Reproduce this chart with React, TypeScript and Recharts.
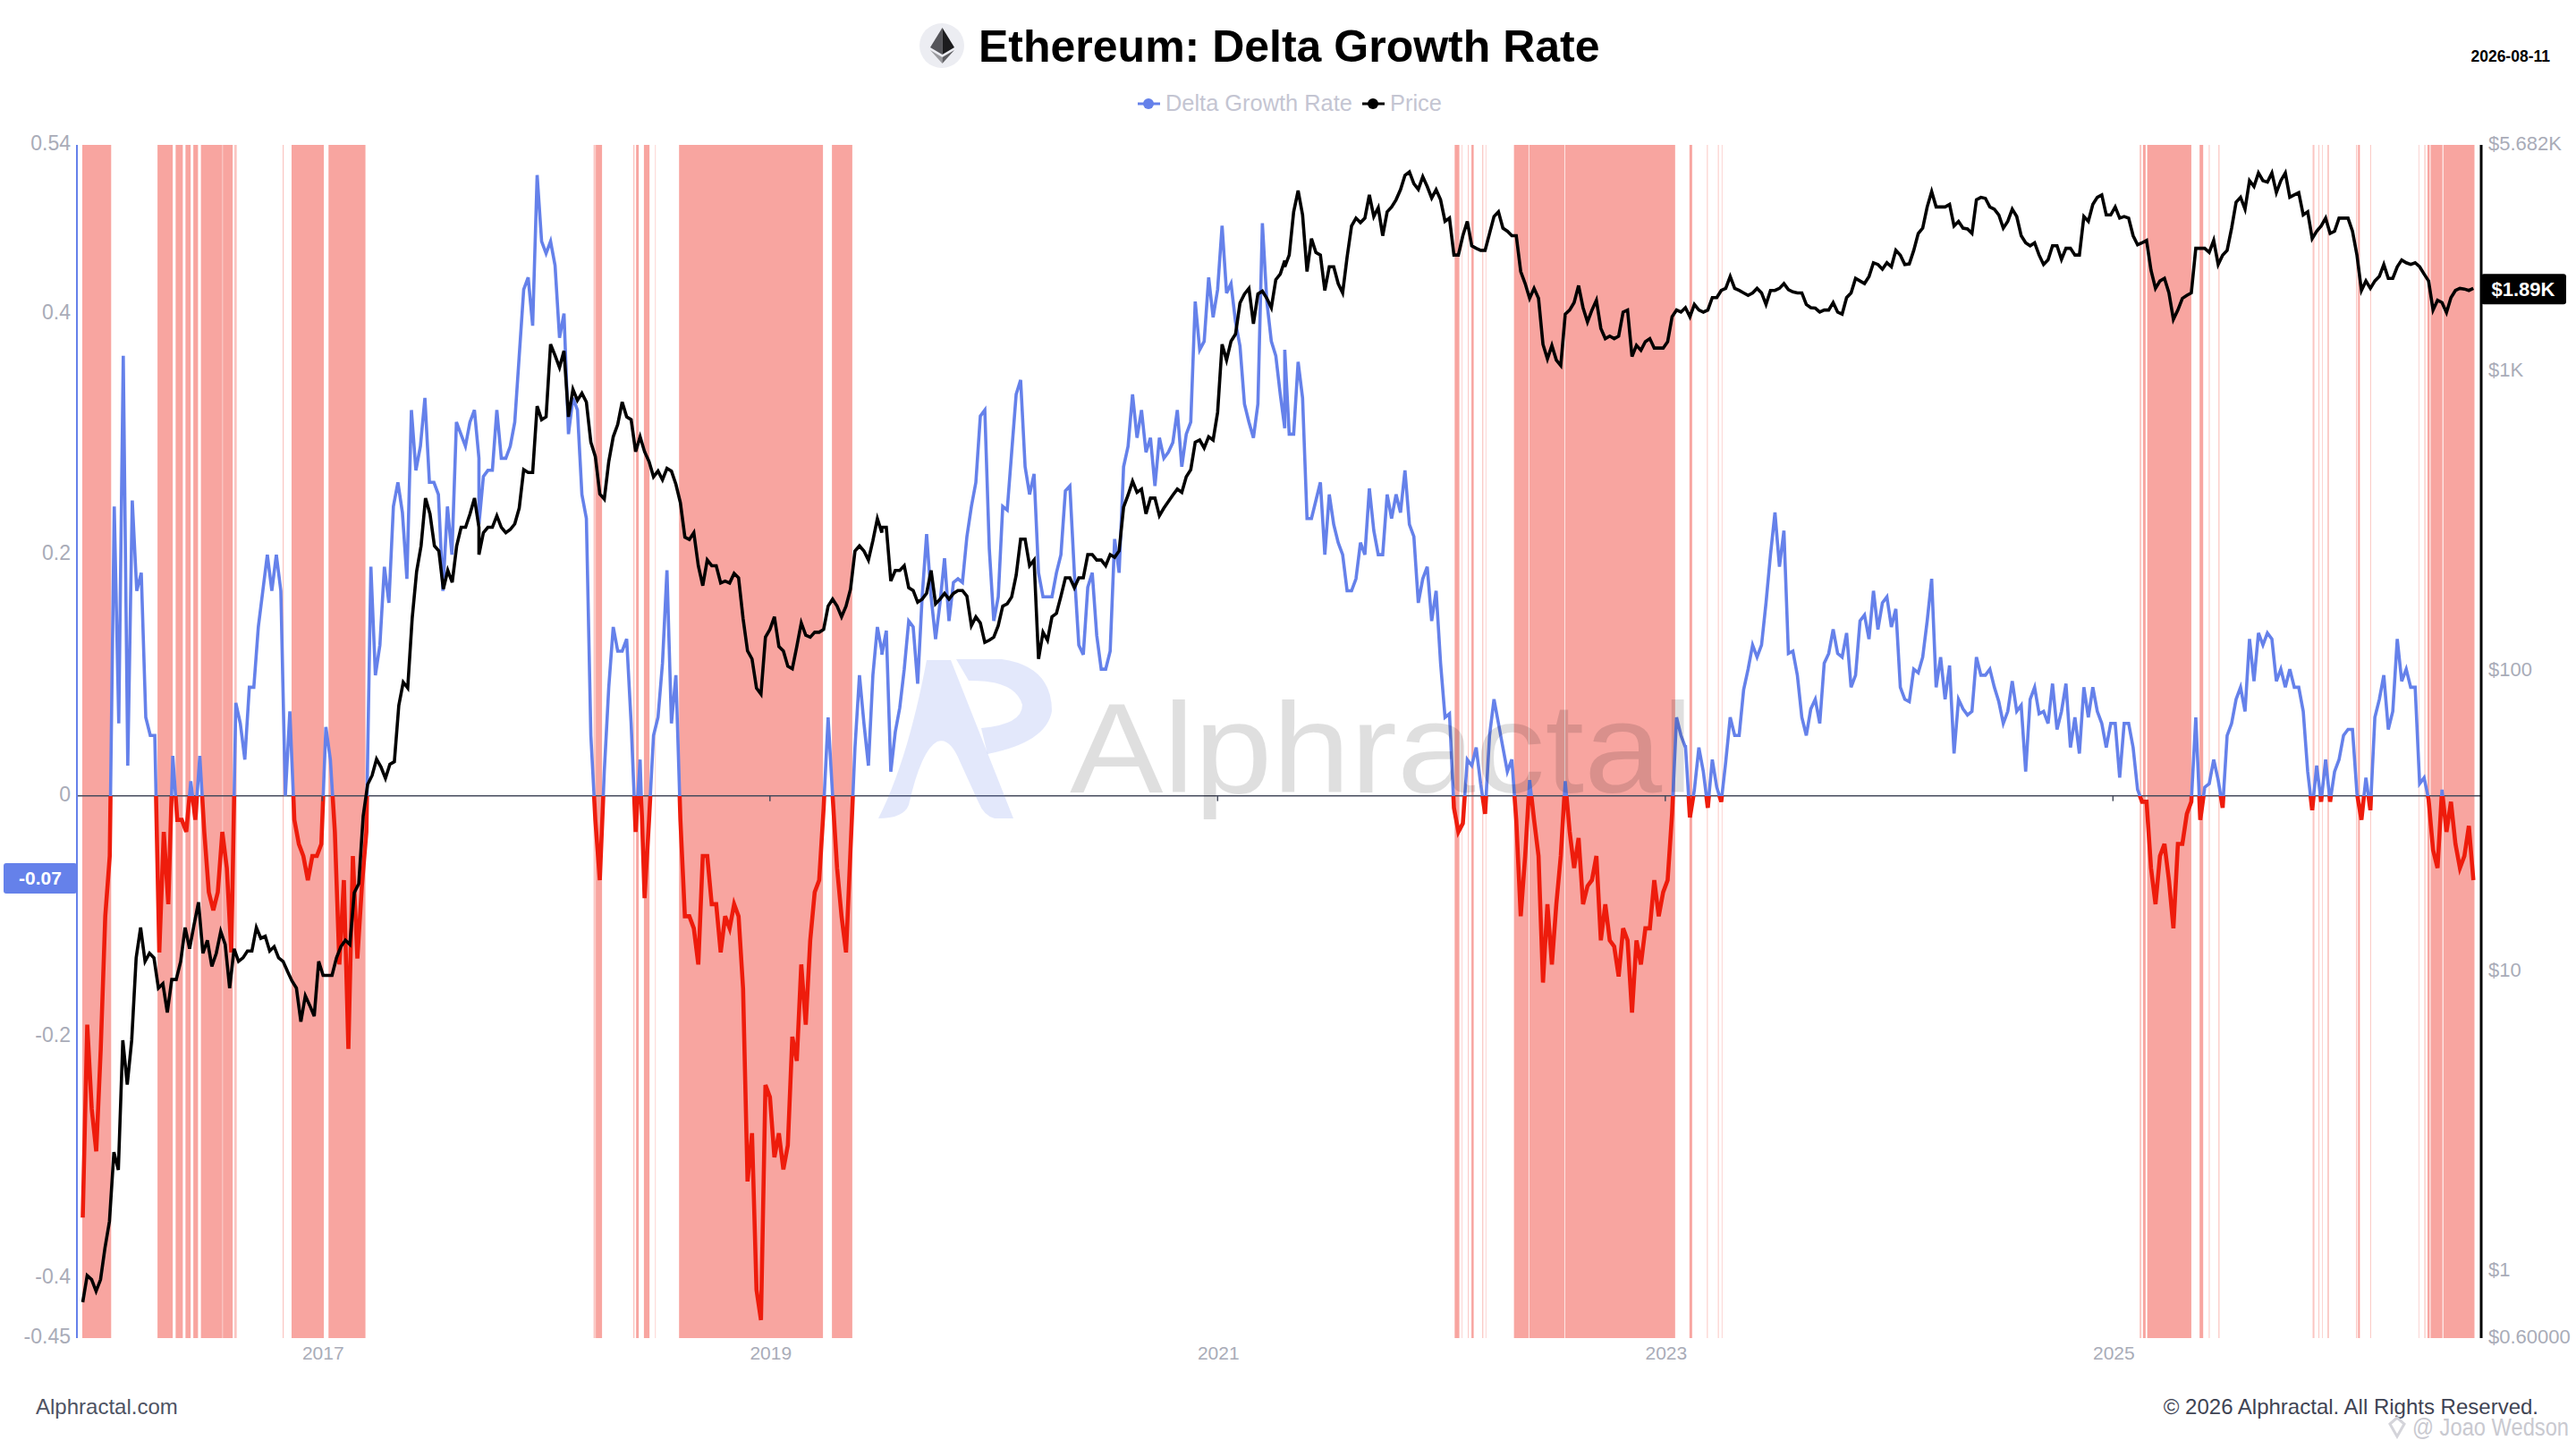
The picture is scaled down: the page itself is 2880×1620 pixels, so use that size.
import {
  ComposedChart,
  Line,
  XAxis,
  YAxis,
  ReferenceArea,
  ReferenceDot,
  ReferenceLine,
} from 'recharts';

// six stretches of the time axis, each list below is spread evenly over its stretch
const segmentEdges = [2015.93, 2017.7, 2019.5, 2021.3, 2023.09, 2024.89, 2026.61];

const delta2016 = [
  -0.35, -0.19, -0.26, -0.295, -0.21, -0.1, -0.05, 0.24, 0.06, 0.365, 0.025, 0.245, 0.17, 0.185, 0.065, 0.05, 0.05,
  -0.13, -0.03, -0.09, 0.033, -0.02, -0.02, -0.03, 0.012, -0.02, 0.033, -0.03, -0.08, -0.095, -0.08, -0.03, -0.06,
  -0.13, 0.077, 0.06, 0.03, 0.09, 0.09, 0.14, 0.17, 0.2, 0.17, 0.2, 0.17, 0, 0.07, -0.02, -0.04, -0.05, -0.07, -0.05,
  -0.05, -0.04, 0.057, 0.03, -0.03, -0.14, -0.07, -0.21, -0.05, -0.135, -0.075, -0.03, 0.19, 0.1, 0.125, 0.19, 0.16,
  0.24, 0.26, 0.235, 0.18, 0.32, 0.27, 0.29, 0.33, 0.26, 0.26, 0.25, 0.17, 0.24, 0.2, 0.31, 0.3, 0.29, 0.31, 0.32, 0.28,
];
const delta2017 = [
  0.225, 0.265, 0.27, 0.27, 0.32, 0.28, 0.28, 0.29, 0.31, 0.365, 0.42, 0.43, 0.39, 0.515, 0.46, 0.45, 0.46, 0.44, 0.38,
  0.4, 0.3, 0.33, 0.32, 0.25, 0.23, 0.05, -0.02, -0.07, 0.02, 0.09, 0.14, 0.12, 0.12, 0.13, 0.06, -0.03, 0.03, -0.085,
  -0.02, 0.05, 0.065, 0.11, 0.187, 0.06, 0.1, -0.02, -0.1, -0.1, -0.11, -0.14, -0.05, -0.05, -0.09, -0.09, -0.13, -0.1,
  -0.11, -0.09, -0.1, -0.16, -0.32, -0.28, -0.41, -0.435, -0.24, -0.25, -0.3, -0.28, -0.31, -0.29, -0.2, -0.22, -0.14,
  -0.19, -0.12, -0.08, -0.07, -0.01, 0.065, 0, -0.06, -0.1, -0.13, -0.045, 0.04, 0.1, 0.06, 0.025, 0.1, 0.14, 0.12,
];
const delta2019 = [
  0.117, 0.137, 0.02, 0.053, 0.073, 0.105, 0.145, 0.14, 0.093, 0.165, 0.217, 0.165, 0.13, 0.16, 0.197, 0.145, 0.177,
  0.18, 0.177, 0.215, 0.24, 0.26, 0.315, 0.32, 0.205, 0.145, 0.165, 0.24, 0.237, 0.285, 0.333, 0.345, 0.273, 0.25,
  0.267, 0.185, 0.165, 0.165, 0.165, 0.185, 0.2, 0.253, 0.257, 0.185, 0.125, 0.117, 0.173, 0.185, 0.133, 0.105, 0.105,
  0.12, 0.213, 0.185, 0.273, 0.29, 0.333, 0.297, 0.32, 0.285, 0.297, 0.257, 0.297, 0.28, 0.285, 0.293, 0.32, 0.273,
  0.3, 0.31, 0.41, 0.37, 0.377, 0.43, 0.397, 0.42, 0.473, 0.417, 0.425, 0.393, 0.373, 0.325, 0.31, 0.297, 0.325, 0.475,
  0.41, 0.377, 0.365, 0.333, 0.305,
];
const delta2021 = [
  0.37, 0.3, 0.3, 0.36, 0.33, 0.23, 0.23, 0.245, 0.26, 0.2, 0.25, 0.225, 0.21, 0.2, 0.17, 0.17, 0.18, 0.21, 0.2, 0.255,
  0.22, 0.2, 0.2, 0.25, 0.23, 0.25, 0.235, 0.27, 0.225, 0.215, 0.16, 0.18, 0.19, 0.145, 0.17, 0.11, 0.065, 0.068, -0.01,
  -0.03, -0.023, 0.03, 0.025, 0.04, 0.01, -0.015, 0.05, 0.08, 0.06, 0.04, 0.02, 0.03, -0.02, -0.1, -0.05, 0.013, -0.02,
  -0.05, -0.155, -0.09, -0.14, -0.09, -0.05, 0.012, -0.03, -0.06, -0.035, -0.09, -0.075, -0.07, -0.05, -0.12, -0.09,
  -0.12, -0.125, -0.15, -0.11, -0.12, -0.18, -0.12, -0.14, -0.11, -0.11, -0.07, -0.1, -0.08, -0.07, -0.015, 0.065, 0.05,
  0.04,
];
const delta2023 = [
  0.042, -0.018, 0.005, 0.04, 0.02, -0.01, 0.03, 0.007, -0.005, 0.028, 0.065, 0.05, 0.05, 0.088, 0.105, 0.125, 0.115,
  0.125, 0.16, 0.2, 0.235, 0.19, 0.22, 0.118, 0.12, 0.1, 0.065, 0.05, 0.072, 0.08, 0.06, 0.11, 0.118, 0.138, 0.118,
  0.115, 0.135, 0.09, 0.1, 0.145, 0.15, 0.13, 0.17, 0.138, 0.16, 0.165, 0.14, 0.155, 0.09, 0.08, 0.078, 0.105, 0.102,
  0.115, 0.145, 0.18, 0.09, 0.115, 0.08, 0.108, 0.035, 0.08, 0.072, 0.067, 0.07, 0.115, 0.1, 0.1, 0.105, 0.09, 0.078,
  0.06, 0.07, 0.095, 0.07, 0.075, 0.02, 0.08, 0.09, 0.068, 0.07, 0.06, 0.093, 0.055, 0.07, 0.093, 0.04, 0.065, 0.035,
  0.09, 0.065,
];
const delta2025 = [
  0.065, 0.09, 0.07, 0.06, 0.04, 0.06, 0.06, 0.015, 0.06, 0.06, 0.04, 0.005, -0.005, -0.005, -0.06, -0.09, -0.05, -0.04,
  -0.07, -0.11, -0.04, -0.04, -0.015, -0.005, 0.065, -0.02, 0.007, 0.01, 0.03, 0.013, -0.01, 0.05, 0.06, 0.08, 0.09,
  0.07, 0.13, 0.095, 0.135, 0.125, 0.135, 0.13, 0.095, 0.105, 0.09, 0.105, 0.09, 0.09, 0.07, 0.02, -0.012, 0.025, -0.005,
  0.03, -0.005, 0.02, 0.03, 0.05, 0.055, 0.055, 0.002, -0.02, 0.015, -0.012, 0.065, 0.08, 0.1, 0.055, 0.07, 0.13, 0.095,
  0.105, 0.09, 0.09, 0.01, 0.015, -0.003, -0.045, -0.06, 0.005, -0.03, -0.005, -0.04, -0.06, -0.05, -0.025, -0.07,
];

const price2016 = [
  0.79, 0.97, 0.94, 0.86, 0.94, 1.2, 1.47, 2.5, 2.18, 5.9, 4.2, 5.9, 11.1, 14, 10.8, 11.5, 11.1, 8.8, 9.1, 7.3, 9.4, 9.4,
  10.8, 14, 11.9, 14.3, 17, 11.5, 12.7, 10.4, 11.5, 13.6, 12.3, 8.8, 11.9, 10.8, 11.1, 11.7, 11.7, 14, 12.9, 13.1, 11.7,
  12.1, 11.1, 10.8, 10, 9.3, 8.8, 6.8, 8.3, 7.7, 7.1, 10.8, 9.7, 9.7, 9.7, 11.1, 12.1, 12.7, 12.3, 18.3, 19.6, 33, 42,
  45, 51, 48, 44, 49, 50, 77, 92, 88, 150, 215, 262, 378, 335, 262, 252, 188, 217, 198, 262, 302, 302, 335, 378, 302,
];
const price2017 = [
  245, 290, 302, 302, 330, 302, 290, 297, 310, 350, 470, 460, 460, 765, 690, 705, 1230, 1130, 1030, 1170, 705, 870, 800,
  845, 790, 580, 520, 390, 375, 500, 605, 665, 790, 705, 690, 540, 605, 540, 500, 445, 465, 435, 475, 465, 420, 365, 280,
  275, 290, 225, 193, 235, 225, 225, 197, 200, 197, 212, 205, 150, 117, 110, 88, 84, 130, 138, 152, 121, 117, 104, 102,
  121, 145, 132, 130, 135, 135, 138, 165, 174, 165, 152, 165, 188, 252, 262, 252, 235, 273, 323, 290,
];
const price2019 = [
  302, 302, 200, 217, 217, 225, 190, 186, 170, 174, 182, 217, 168, 174, 182, 174, 182, 186, 186, 178, 142, 152, 145, 125,
  127, 130, 142, 165, 168, 177, 209, 276, 276, 225, 235, 110, 135, 127, 152, 156, 178, 205, 205, 190, 205, 205, 245, 245,
  235, 235, 225, 245, 240, 252, 353, 387, 430, 395, 405, 335, 378, 378, 330, 350, 368, 387, 405, 395, 445, 470, 580, 590,
  555, 605, 590, 730, 1230, 1090, 1260, 1330, 1690, 1810, 1890, 1440, 1810, 1850, 1750, 1630, 2020, 2110, 2340,
];
const price2021 = [
  2230, 2440, 3400, 4000, 3320, 2150, 2770, 2490, 2440, 1860, 2230, 2230, 1960, 1825, 2400, 3050, 3240, 3130, 3240, 3870,
  3280, 3510, 2830, 3400, 3530, 3730, 4030, 4500, 4620, 4220, 4040, 4450, 4130, 3780, 4030, 3730, 3160, 3240, 2440, 2440,
  2830, 3160, 2620, 2570, 2530, 2530, 2880, 3280, 3400, 3000, 2930, 2830, 2830, 2150, 1960, 1750, 1890, 1750, 1230, 1100,
  1220, 1090, 1045, 1550, 1600, 1695, 1930, 1630, 1460, 1600, 1725, 1390, 1285, 1310, 1285, 1310, 1575, 1600, 1120, 1220,
  1175, 1255, 1285, 1195, 1195, 1195, 1255, 1520, 1600, 1575, 1630,
];
const price2023 = [
  1630, 1520, 1670, 1600, 1575, 1600, 1760, 1760, 1860, 1890, 2070, 1890, 1860, 1825, 1790, 1825, 1890, 1825, 1670, 1860,
  1860, 1890, 1960, 1870, 1840, 1825, 1825, 1670, 1630, 1625, 1575, 1600, 1600, 1695, 1575, 1550, 1760, 1825, 2040, 2000,
  1960, 2070, 2300, 2270, 2190, 2300, 2230, 2530, 2440, 2270, 2280, 2530, 2880, 3000, 3530, 3970, 3530, 3530, 3530, 3600,
  3050, 3160, 3000, 2980, 2880, 3730, 3800, 3770, 3530, 3470, 3320, 3000, 3160, 3470, 3280, 2830, 2680, 2620, 2680, 2440,
  2270, 2350, 2620, 2620, 2360, 2570, 2570, 2440, 2440, 3280, 3160,
];
const price2025 = [
  3160, 3600, 3800, 3870, 3320, 3320, 3530, 3240, 3280, 3240, 2830, 2640, 2680, 2730, 2170, 1890, 2000, 2040, 1825, 1490,
  1600, 1750, 1790, 1825, 2570, 2570, 2570, 2490, 2730, 2270, 2440, 2530, 3000, 3660, 3800, 3470, 4320, 4130, 4580, 4320,
  4270, 4580, 3940, 4320, 4580, 3800, 3870, 3940, 3320, 3400, 2770, 2930, 3050, 3240, 2880, 2930, 3240, 3240, 3240, 2930,
  2440, 1860, 2000, 1890, 2000, 2070, 2270, 2040, 2040, 2230, 2350, 2300, 2270, 2300, 2230, 2110, 2000, 1600, 1725, 1695,
  1570, 1760, 1860, 1890, 1880, 1860, 1890,
];

// negative-delta periods, start and end in decimal years
const solidBands = [
  [2015.928, 2016.057], [2016.264, 2016.332], [2016.345, 2016.377], [2016.389, 2016.412], [2016.424, 2016.445],
  [2016.458, 2016.554], [2016.556, 2016.6], [2016.863, 2017.007], [2017.028, 2017.193], [2018.222, 2018.25],
  [2018.402, 2018.414], [2018.437, 2018.462], [2018.594, 2019.237], [2019.277, 2019.368], [2022.059, 2022.08],
  [2022.134, 2022.144], [2022.324, 2022.389], [2022.392, 2022.549], [2022.552, 2023.044], [2023.108, 2023.12],
  [2025.134, 2025.146], [2025.153, 2025.35], [2025.387, 2025.403], [2026.095, 2026.103], [2026.405, 2026.415],
  [2026.419, 2026.472], [2026.476, 2026.615],
];
const faintBands = [
  [2016.607, 2016.618], [2016.823, 2016.828], [2018.212, 2018.221], [2018.389, 2018.395], [2018.487, 2018.49],
  [2022.091, 2022.094], [2022.118, 2022.122], [2022.182, 2022.187], [2022.197, 2022.2], [2023.186, 2023.19],
  [2023.235, 2023.239], [2023.252, 2023.255], [2025.119, 2025.127], [2025.428, 2025.432], [2025.471, 2025.476],
  [2025.892, 2025.9], [2025.918, 2025.922], [2025.934, 2025.937], [2025.958, 2025.965], [2026.086, 2026.091],
  [2026.149, 2026.153], [2026.365, 2026.368], [2026.391, 2026.396],
];

const yearTicks = [2017, 2019, 2021, 2023, 2025];
const deltaTicks = [0.54, 0.4, 0.2, 0, -0.2, -0.4, -0.45];
const priceTicks = [0.6, 1, 10, 100, 1000, 5682];
const priceLabels: Record<number, string> = {
  0.6: '$0.60000',
  1: '$1',
  10: '$10',
  100: '$100',
  1000: '$1K',
  5682: '$5.682K',
};
const lastDelta = -0.07;
const lastPrice = 1890;
const timeDomain = [2015.904, 2026.645];
const deltaDomain = [-0.45, 0.54];
const priceDomain = [0.6, 5682];

const BLUE = '#6581ea';
const RED = '#ee1c0c';
const GREY = '#a9acb8';
const chartW = 2880;
const chartH = 1620;
const plotTop = 162;
const plotBottom = 1496;
const zeroShare = deltaDomain[1] / (deltaDomain[1] - deltaDomain[0]);

const spread = (segments: number[][]) =>
  segments.flatMap((values, s) =>
    values.map((v, i) => ({
      t: segmentEdges[s] + ((segmentEdges[s + 1] - segmentEdges[s]) * i) / (values.length - 1),
      v,
    })),
  );

const deltaPoints = spread([delta2016, delta2017, delta2019, delta2021, delta2023, delta2025]);
const pricePoints = spread([price2016, price2017, price2019, price2021, price2023, price2025]);

const YearTick = ({ x, payload }: any) => {
  const zeroY = plotTop + zeroShare * (plotBottom - plotTop);
  return (
    <g>
      <line x1={x} x2={x} y1={zeroY} y2={zeroY + 6} stroke="#464b5c" strokeWidth={1.5} />
      <text x={x + 1} y={1520} textAnchor="middle" fill={GREY} fontSize={21}>
        {payload.value}
      </text>
    </g>
  );
};

const DeltaBadge = ({ cx, cy }: any) => (
  <g>
    <rect x={cx - 82} y={cy - 19} width={82} height={34} rx={3} fill={BLUE} />
    <text x={cx - 41} y={cy + 5} textAnchor="middle" fill="#fff" fontSize={21} fontWeight="bold">
      -0.07
    </text>
  </g>
);

const PriceBadge = ({ cx, cy }: any) => (
  <g>
    <rect x={cx} y={cy - 16} width={95} height={34} rx={3} fill="#000" />
    <text x={cx + 47} y={cy + 9} textAnchor="middle" fill="#fff" fontSize={22} fontWeight="bold">
      $1.89K
    </text>
  </g>
);

const Watermarks = () => (
  <svg
    width={chartW}
    height={chartH}
    style={{ position: 'absolute', left: 0, top: 0, pointerEvents: 'none' }}
  >
    <path
      fill={BLUE}
      fillOpacity={0.18}
      d="M1036 738 L1063 738 L1133 915 L1112 915 Q1100 912 1094 897 L1073 851 Q1062 824 1048 829 Q1030 838 1016 900 Q1010 915 982 915 Q1015 850 1036 738 Z"
    />
    <path
      fill={BLUE}
      fillOpacity={0.18}
      d="M1069 737 L1120 737 Q1176 745 1176 795 Q1170 830 1104 843 L1097 814 Q1143 810 1143 788 Q1135 760 1083 761 Z"
    />
    <text
      x={1196}
      y={886}
      fontSize={143}
      textLength={697}
      lengthAdjust="spacingAndGlyphs"
      fill="#000"
      fillOpacity={0.125}
    >
      Alphractal
    </text>
    <path
      d="M2672 1592 L2680 1585 L2688 1592 L2680 1606 Z"
      fill="none"
      stroke="#d4d4da"
      strokeWidth={3}
    />
    <text x={2697} y={1605} fontSize={27} textLength={175} lengthAdjust="spacingAndGlyphs" fill="#c9c9d0">
      @ Joao Wedson
    </text>
  </svg>
);

const Header = () => (
  <svg
    width={chartW}
    height={chartH}
    style={{ position: 'absolute', left: 0, top: 0, pointerEvents: 'none' }}
  >
    <circle cx={1053} cy={51} r={25} fill="#ecedf2" />
    <polygon points="1053.5,31 1040,53 1053.5,61" fill="#55555a" />
    <polygon points="1053.5,31 1067,53 1053.5,61" fill="#1c1c1e" />
    <polygon points="1040,56 1053.5,64 1053.5,71" fill="#9a9a9e" />
    <polygon points="1067,56 1053.5,64 1053.5,71" fill="#5e5e62" />
    <text x={1094} y={69} fontSize={50} fontWeight="bold" fill="#000">
      Ethereum: Delta Growth Rate
    </text>
    <text x={2851} y={69} fontSize={17.5} fontWeight="bold" fill="#000" textAnchor="end">
      2026-08-11
    </text>
    <line x1={1272} x2={1297} y1={116} y2={116} stroke={BLUE} strokeWidth={3} />
    <circle cx={1284} cy={116} r={6} fill={BLUE} />
    <text x={1303} y={124} fontSize={25.4} fill="#c4c5d2">
      Delta Growth Rate
    </text>
    <line x1={1523} x2={1548} y1={116} y2={116} stroke="#000" strokeWidth={3} />
    <circle cx={1535} cy={116} r={6} fill="#000" />
    <text x={1554} y={124} fontSize={25.4} fill="#c4c5d2">
      Price
    </text>
    <text x={40} y={1581} fontSize={24} fill="#4e5363">
      Alphractal.com
    </text>
    <text x={2838} y={1581} fontSize={24} fill="#3f4454" textAnchor="end">
      © 2026 Alphractal. All Rights Reserved.
    </text>
  </svg>
);

export default function App() {
  return (
    <div
      style={{
        position: 'absolute',
        left: 0,
        top: 0,
        width: chartW,
        height: chartH,
        background: '#fff',
        fontFamily: '"Liberation Sans", Arial, sans-serif',
      }}
    >
      <ComposedChart
        width={chartW}
        height={chartH}
        margin={{ top: plotTop, right: 0, bottom: 0, left: 0 }}
      >
        <defs>
          <linearGradient id="aboveZero" gradientUnits="userSpaceOnUse" x1="0" y1={plotTop} x2="0" y2={plotBottom}>
            <stop offset={zeroShare} stopColor={BLUE} />
            <stop offset={zeroShare} stopColor={BLUE} stopOpacity={0} />
          </linearGradient>
          <linearGradient id="belowZero" gradientUnits="userSpaceOnUse" x1="0" y1={plotTop} x2="0" y2={plotBottom}>
            <stop offset={zeroShare} stopColor={RED} stopOpacity={0} />
            <stop offset={zeroShare} stopColor={RED} />
          </linearGradient>
        </defs>
        <XAxis
          dataKey="t"
          type="number"
          domain={timeDomain}
          ticks={yearTicks}
          height={chartH - plotBottom}
          axisLine={false}
          tickLine={false}
          allowDataOverflow
          interval={0}
          tick={<YearTick />}
        />
        <YAxis
          yAxisId="delta"
          orientation="left"
          width={86}
          domain={deltaDomain}
          ticks={deltaTicks}
          interval={0}
          allowDataOverflow
          axisLine={{ stroke: BLUE, strokeWidth: 2 }}
          tickLine={false}
          tickMargin={1}
          tick={{ fill: GREY, fontSize: 23, dy: -2 }}
        />
        <YAxis
          yAxisId="price"
          orientation="right"
          width={chartW - 2774}
          scale="log"
          domain={priceDomain}
          ticks={priceTicks}
          interval={0}
          allowDataOverflow
          axisLine={{ stroke: '#000', strokeWidth: 3 }}
          tickLine={false}
          tickMargin={2}
          tick={{ fill: GREY, fontSize: 22, dy: -2 }}
          tickFormatter={(value: number) => priceLabels[value]}
        />
        {solidBands.map(([x1, x2]) => (
          <ReferenceArea key={x1} yAxisId="delta" x1={x1} x2={x2} fill="#f8a5a0" fillOpacity={1} stroke="none" />
        ))}
        {faintBands.map(([x1, x2]) => (
          <ReferenceArea key={x1} yAxisId="delta" x1={x1} x2={x2} fill="#fbc6c2" fillOpacity={1} stroke="none" />
        ))}
        <ReferenceLine yAxisId="delta" y={0} stroke="#464b5c" strokeWidth={1.5} />
        <Line
          yAxisId="delta"
          data={deltaPoints}
          dataKey="v"
          type="linear"
          stroke="url(#aboveZero)"
          strokeWidth={3.6}
          dot={false}
          isAnimationActive={false}
        />
        <Line
          yAxisId="delta"
          data={deltaPoints}
          dataKey="v"
          type="linear"
          stroke="url(#belowZero)"
          strokeWidth={4.6}
          dot={false}
          isAnimationActive={false}
        />
        <Line
          yAxisId="price"
          data={pricePoints}
          dataKey="v"
          type="linear"
          stroke="#000"
          strokeWidth={3.6}
          dot={false}
          isAnimationActive={false}
        />
        <ReferenceDot
          yAxisId="delta"
          x={timeDomain[0]}
          y={lastDelta}
          ifOverflow="visible"
          shape={<DeltaBadge />}
        />
        <ReferenceDot
          yAxisId="price"
          x={timeDomain[1]}
          y={lastPrice}
          ifOverflow="visible"
          shape={<PriceBadge />}
        />
      </ComposedChart>
      <Header />
      <Watermarks />
    </div>
  );
}
